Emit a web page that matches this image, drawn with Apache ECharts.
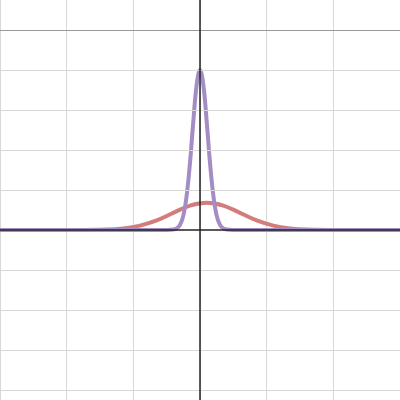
<!DOCTYPE html>
<html><head><meta charset="utf-8">
<script src="https://cdn.jsdelivr.net/npm/echarts@6/dist/echarts.min.js"></script>
<style>html,body{margin:0;padding:0;background:#fff}#c{width:400px;height:400px}</style>
</head><body><div id="c"></div>
<script>
const purpleX = [-3,-0.5,-0.4,-0.35,-0.3,-0.25,-0.2,-0.15,-0.1,-0.05,0,0.05,0.1,0.15,0.2,0.25,0.3,0.35,0.4,0.5,3];
const purpleY = [0,0,0.01,0.04,0.13,0.36,0.86,1.68,2.72,3.63,4,3.63,2.72,1.68,0.86,0.36,0.13,0.04,0.01,0,0];
const redX = [-3,-1.9,-1.4,-1.15,-0.9,-0.65,-0.4,-0.15,0.1,0.35,0.6,0.85,1.1,1.35,1.6,2.1,3];
const redY = [0,0,0.01,0.04,0.11,0.24,0.43,0.61,0.68,0.61,0.43,0.24,0.11,0.04,0.01,0,0];
const gridYs = [-4,-3,-2,-1,1,2,3,4];
const zip = (a,b)=>a.map((v,i)=>[v,b[i]]);
const chart = echarts.init(document.getElementById('c'));
chart.setOption({
  animation:false,
  grid:{left:0,right:0,top:0,bottom:0},
  xAxis:{type:'value',min:-3,max:3,interval:1,axisLine:{show:false},axisTick:{show:false},axisLabel:{show:false},
    splitLine:{lineStyle:{color:'#d8d8d8',width:1}}},
  yAxis:{type:'value',min:-4.25,max:5.75,axisLine:{show:false},axisTick:{show:false},axisLabel:{show:false},
    splitLine:{show:false}},
  series:[
    {type:'line',data:[],markLine:{silent:true,symbol:'none',label:{show:false},
      lineStyle:{color:'#d8d8d8',width:1,type:'solid'},data:gridYs.map(v=>({yAxis:v}))}},
    {type:'line',data:[],markLine:{silent:true,symbol:'none',label:{show:false},
      lineStyle:{color:'#999',width:1,type:'solid'},data:[{yAxis:5}]}},
    {type:'line',data:[],markLine:{silent:true,symbol:'none',label:{show:false},
      lineStyle:{color:'#222',width:1.5,type:'solid'},data:[{yAxis:0},{xAxis:0}]}},
    {type:'line',data:zip(redX,redY),smooth:0.4,showSymbol:false,lineStyle:{color:'#d27d79',width:4}},
    {type:'line',data:zip(purpleX,purpleY),smooth:0.4,showSymbol:false,lineStyle:{color:'#a48cc4',width:4}}
  ]
});
</script></body></html>
